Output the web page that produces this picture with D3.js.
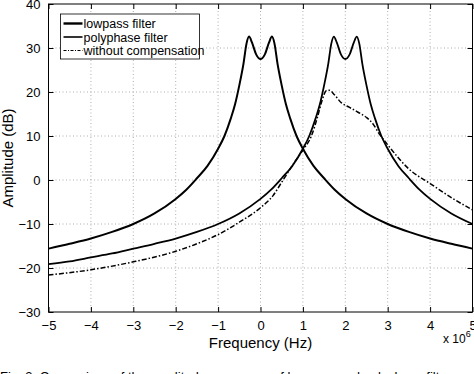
<!DOCTYPE html>
<meta charset="utf-8">
<style>
  body { margin: 0; background: #fff; overflow: hidden; }
  svg { font-family: "Liberation Sans", Arial, sans-serif; display: block; }
</style>
<div id="chart"></div>
<script src="https://d3js.org/d3.v7.min.js"></script>
<script>
// values (frequency in MHz, amplitude in dB)
var lowpassX = [-5, -4.5, -4, -3.5, -3, -2.5, -2, -1.75, -1.5, -1.25, -1, -0.85, -0.7, -0.6, -0.5, -0.4, -0.33, -0.27, -0.2, -0.1, 0,
                0.1, 0.2, 0.27, 0.33, 0.4, 0.5, 0.6, 0.7, 0.85, 1, 1.25, 1.5, 1.75, 2, 2.5, 3, 3.5, 4, 4.5, 5];
var lowpassY = [-15.6, -14.5, -13.3, -11.8, -10.0, -7.6, -4.3, -2.2, 0.4, 3.2, 7.1, 10.0, 14.0, 17.2, 21.5, 26.5, 31.0, 32.6, 31.2, 28.5, 27.5,
                28.5, 31.2, 32.6, 31.0, 26.5, 21.5, 17.2, 14.0, 10.0, 7.1, 3.2, 0.4, -2.2, -4.3, -7.6, -10.0, -11.8, -13.3, -14.5, -15.6];

var polyX = [-5, -4.5, -4, -3.5, -3, -2.5, -2, -1.5, -1, -0.5, 0, 0.25, 0.5, 0.75, 1, 1.15, 1.3, 1.4, 1.5, 1.6, 1.67, 1.73, 1.8, 1.9, 2,
             2.1, 2.2, 2.27, 2.33, 2.4, 2.5, 2.6, 2.7, 2.85, 3, 3.25, 3.5, 3.75, 4, 4.5, 5];
var polyY = [-19.1, -18.5, -17.6, -16.7, -15.6, -14.5, -13.3, -11.8, -10.0, -7.6, -4.3, -2.2, 0.4, 3.2, 7.1, 10.0, 14.0, 17.2, 21.5, 26.5, 31.0, 32.6, 31.2, 28.5, 27.5,
             28.5, 31.2, 32.6, 31.0, 26.5, 21.5, 17.2, 14.0, 10.0, 7.1, 3.2, 0.4, -2.2, -4.3, -7.6, -10.0];

var noCompX = [-5, -4, -3, -2, -1.5, -1, -0.5, 0, 0.3, 0.5, 0.8, 1, 1.2, 1.35, 1.45, 1.55, 1.62, 1.75, 1.9, 2.1, 2.3, 2.5, 2.65, 2.8, 3, 3.5, 4, 4.5, 5];
var noCompY = [-21.6, -20.4, -18.6, -16.2, -14.5, -12.4, -9.6, -6.3, -3.5, -0.5, 4.0, 6.8, 10.0, 14.5, 18.0, 20.3, 20.4, 19.3, 17.6, 16.5, 15.4, 14.2, 12.8, 10.5, 8.0, 2.5, -0.8, -4.0, -6.8];

var xTicks = [-5, -4, -3, -2, -1, 0, 1, 2, 3, 4, 5];
var yTicks = [-30, -20, -10, 0, 10, 20, 30, 40];
var legendNames = ["lowpass filter", "polyphase filter", "without compensation"];

var margin = {top: 4, right: 1.5, bottom: 62, left: 48.5};
var W = 474, H = 374;
var width = W - margin.left - margin.right, height = H - margin.top - margin.bottom;

var svg = d3.select("#chart").append("svg").attr("width", W).attr("height", H);
var g = svg.append("g").attr("transform", "translate(" + margin.left + "," + margin.top + ")");

var x = d3.scaleLinear().domain([-5, 5]).range([0, width]);
var y = d3.scaleLinear().domain([-30, 40]).range([height, 0]);

// grid
g.selectAll(".gx").data(xTicks.slice(1, -1)).enter().append("line")
  .attr("x1", function(d) { return x(d); }).attr("x2", function(d) { return x(d); })
  .attr("y1", 0).attr("y2", height)
  .attr("stroke", "#999").attr("stroke-width", 0.8).attr("stroke-dasharray", "1,2.5");
g.selectAll(".gy").data(yTicks.slice(1, -1)).enter().append("line")
  .attr("y1", function(d) { return y(d); }).attr("y2", function(d) { return y(d); })
  .attr("x1", 0).attr("x2", width)
  .attr("stroke", "#999").attr("stroke-width", 0.8).attr("stroke-dasharray", "1,2.5");

var fmt = function(d) { return d < 0 ? "\u2212" + Math.abs(d) : "" + d; };

// axes, ticks inward like matlab
var xAxis = g.append("g").attr("transform", "translate(0," + height + ")")
  .call(d3.axisBottom(x).tickValues(xTicks).tickSize(-5).tickPadding(9).tickFormat(fmt));
var xTop = g.append("g").call(d3.axisTop(x).tickValues(xTicks).tickSize(-5).tickFormat(""));
var yAxis = g.append("g").call(d3.axisLeft(y).tickValues(yTicks).tickSize(-5).tickPadding(8).tickFormat(fmt));
var yRight = g.append("g").attr("transform", "translate(" + width + ",0)")
  .call(d3.axisRight(y).tickValues(yTicks).tickSize(-5).tickFormat(""));
[xAxis, xTop, yAxis, yRight].forEach(function(a) {
  a.select(".domain").remove();
  a.selectAll("line").attr("stroke", "#000");
  a.selectAll("text").attr("font-size", 13).attr("fill", "#000")
    .attr("font-family", "Liberation Sans, Arial, sans-serif");
});
g.append("rect").attr("width", width).attr("height", height)
  .attr("fill", "none").attr("stroke", "#000").attr("stroke-width", 1);

// curves
var line = d3.line().curve(d3.curveMonotoneX)
  .x(function(d) { return x(d[0]); }).y(function(d) { return y(d[1]); });

g.append("path").datum(d3.zip(lowpassX, lowpassY)).attr("d", line)
  .attr("fill", "none").attr("stroke", "#000").attr("stroke-width", 2);
g.append("path").datum(d3.zip(polyX, polyY)).attr("d", line)
  .attr("fill", "none").attr("stroke", "#000").attr("stroke-width", 1.8);
g.append("path").datum(d3.zip(noCompX, noCompY)).attr("d", line)
  .attr("fill", "none").attr("stroke", "#000").attr("stroke-width", 1.5)
  .attr("stroke-dasharray", "5,2,1.5,2");

// legend
var lg = g.append("g").attr("transform", "translate(12,10)");
lg.append("rect").attr("width", 139).attr("height", 45)
  .attr("fill", "#fff").attr("stroke", "#000").attr("stroke-width", 0.8);
var lstyles = [{w: 2.4, dash: null}, {w: 1.6, dash: null}, {w: 1, dash: "3,1.5,1,1.5"}];
legendNames.forEach(function(name, i) {
  var yy = 9.5 + i * 13.5;
  lg.append("line").attr("x1", 3).attr("x2", 22).attr("y1", yy).attr("y2", yy)
    .attr("stroke", "#000").attr("stroke-width", lstyles[i].w)
    .attr("stroke-dasharray", lstyles[i].dash);
  lg.append("text").attr("x", 23).attr("y", yy + 4.5).attr("font-size", 12.5).text(name);
});

// labels
svg.append("text").attr("x", margin.left + width / 2).attr("y", 348)
  .attr("text-anchor", "middle").attr("font-size", 15).text("Frequency (Hz)");
svg.append("text").attr("transform", "translate(13," + (margin.top + height / 2) + ") rotate(-90)")
  .attr("text-anchor", "middle").attr("font-size", 15).text("Amplitude (dB)");
var ex = svg.append("text").attr("x", 443).attr("y", 343).attr("font-size", 12);
ex.append("tspan").text("x 10");
ex.append("tspan").attr("dy", -6).attr("font-size", 9).text("6");

// caption, cut off at the bottom edge in the source
svg.append("text").attr("x", 0).attr("y", 381).attr("font-size", 13)
  .text("Fig. 3.   Comparison of the amplitude responses of lowpass and polyphase filters");
</script>
